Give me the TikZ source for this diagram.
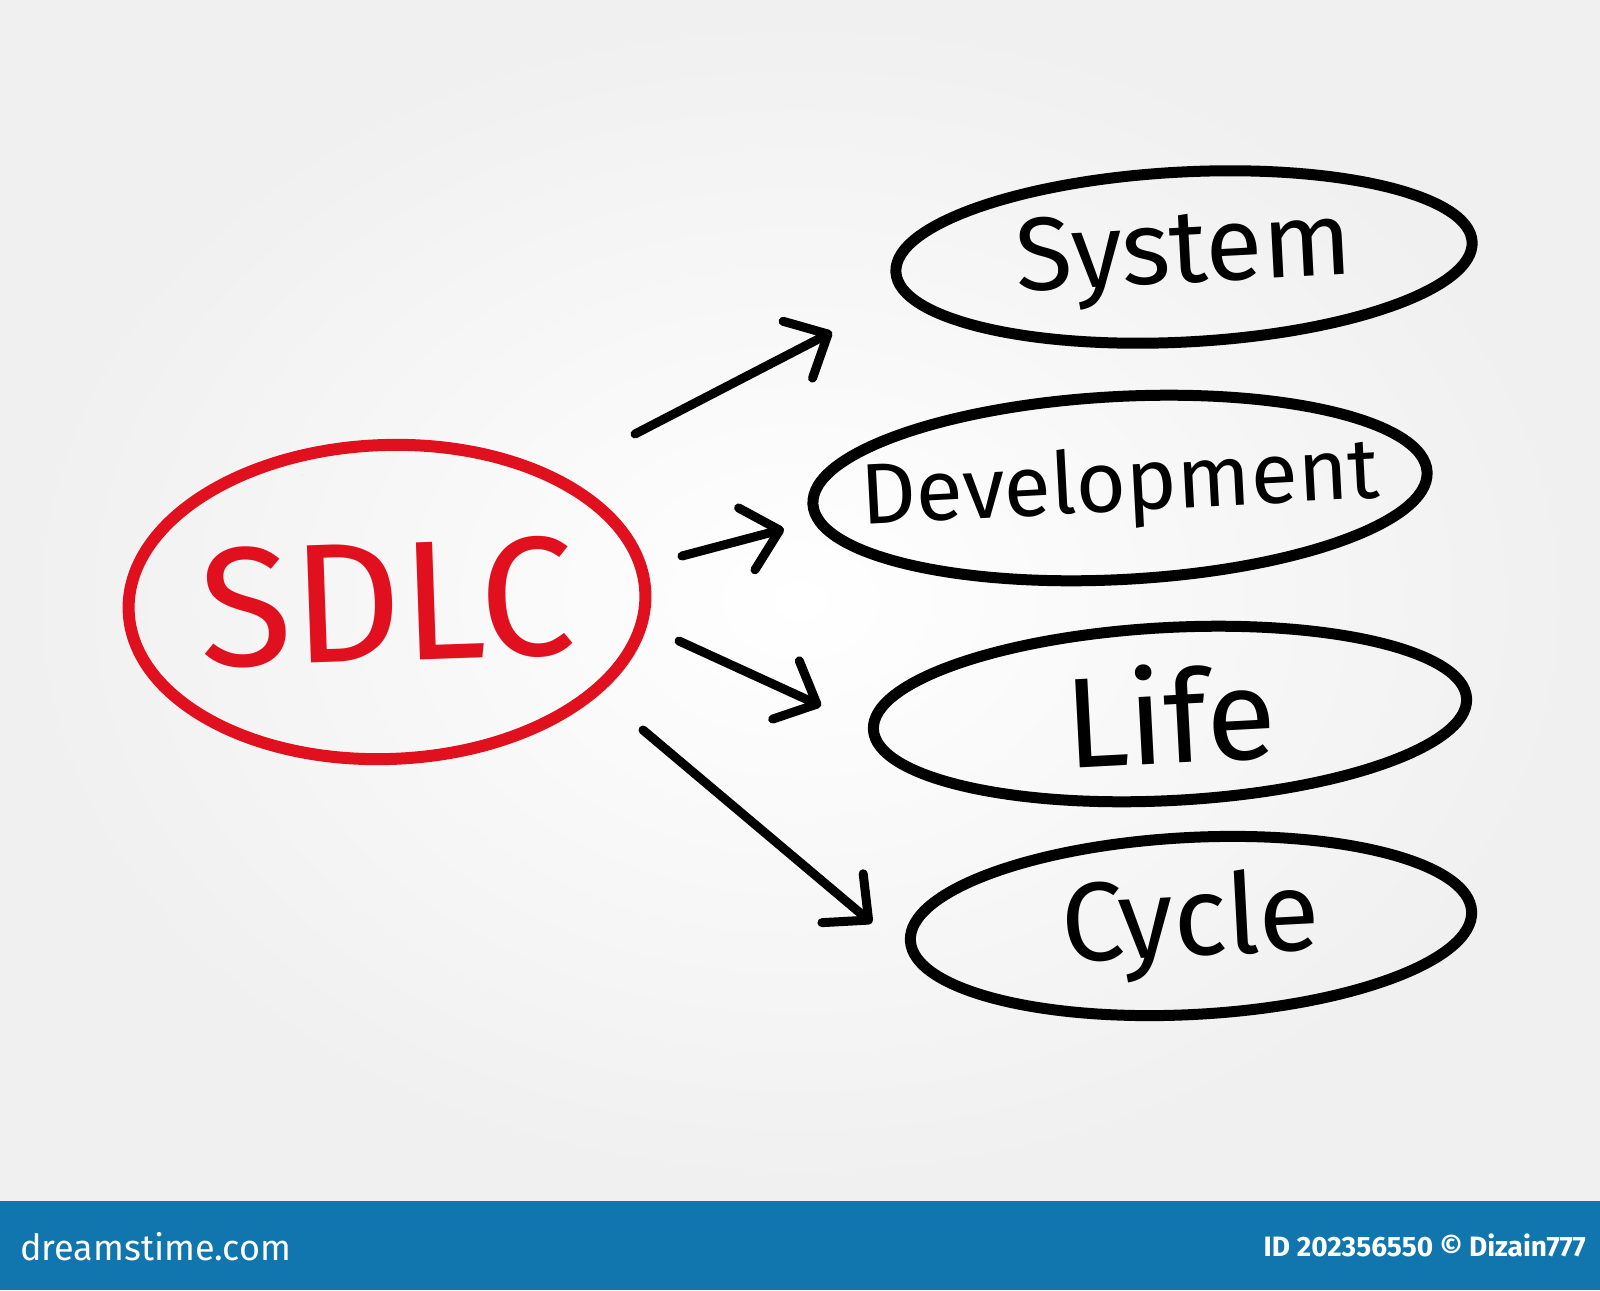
\documentclass[tikz,border=0pt]{standalone}
\usepackage{fontspec}
\setmainfont{Fira Sans}
\usetikzlibrary{shapes,arrows.meta}
\definecolor{sdlcred}{HTML}{E1101E}
\definecolor{barblue}{HTML}{1176AE}

\begin{document}
\begin{tikzpicture}[x=1pt,y=-1pt]
    \tikzstyle{word}=[ellipse,draw=black,line width=11pt,inner sep=0pt,rotate=3]
    \tikzstyle{arrow}=[line width=9pt,line cap=round,-{Straight Barb[round,length=34pt,width=64pt]}]
    \tikzstyle{stamp}=[text=white,inner sep=0pt]
    \useasboundingbox (0,0) rectangle (1600,1290);
    \shade[inner color=white,outer color=black!6] (0,0) rectangle (1600,1201);
    \fill[barblue] (0,1201) rectangle (1600,1290);
    % main ellipse
    \node[ellipse,draw=sdlcred,line width=12pt,inner sep=0pt,rotate=2,
      minimum width=517pt,minimum height=314pt,text=sdlcred,
      font=\fontsize{170}{180}\selectfont] (sdlc) at (387,602) {\makebox[0pt]{SDLC}};
    % words
    \node[word,minimum width=577pt,minimum height=170pt,
      font=\fontsize{104}{110}\selectfont] (system) at (1184,257) {\makebox[0pt]{System}};
    \node[word,minimum width=615pt,minimum height=183pt,
      font=\fontsize{86}{92}\selectfont] (development) at (1120,488) {\makebox[0pt]{Development}};
    \node[word,minimum width=594pt,minimum height=173pt,
      font=\fontsize{128}{134}\selectfont] (life) at (1170,714) {\makebox[0pt]{Life}};
    \node[word,minimum width=562pt,minimum height=177pt,
      font=\fontsize{112}{118}\selectfont] (cycle) at (1191,926) {\makebox[0pt]{Cycle}};
    % arrows
    \coordinate (s1) at (635,434);
    \coordinate (e1) at (832,332);
    \coordinate (s2) at (682,556);
    \coordinate (e2) at (784,529);
    \coordinate (s3) at (679,641);
    \coordinate (e3) at (821,706);
    \coordinate (s4) at (643,730);
    \coordinate (e4) at (872,923);
    \draw[arrow] (s1) -- (e1);
    \draw[arrow] (s2) -- (e2);
    \draw[arrow] (s3) -- (e3);
    \draw[arrow] (s4) -- (e4);
    % footer
    \node[stamp,anchor=west,font=\fontsize{36}{40}\selectfont] (site) at (20,1247) {dreamstime.com};
    \node[stamp,anchor=east,font=\bfseries\fontsize{28}{30}\selectfont] (id) at (1586,1245) {ID 202356550 © Dizain777};
\end{tikzpicture}
\end{document}
